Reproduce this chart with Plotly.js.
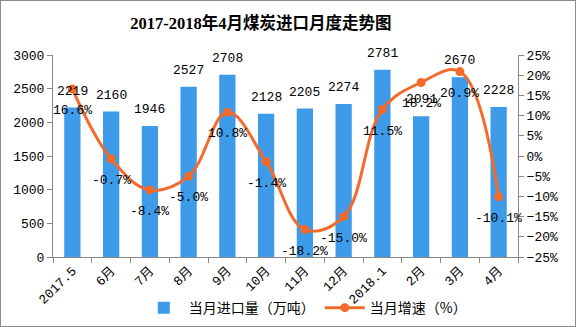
<!DOCTYPE html>
<html><head><meta charset="utf-8">
<script src="https://cdn.plot.ly/plotly-3.0.1.min.js"></script>
<style>
body{margin:0;padding:0;background:#fff;}
#wrap{position:relative;width:576px;height:327px;}
#chart{width:576px;height:327px;}
#frame{position:absolute;left:0;top:0;width:576px;height:327px;box-sizing:border-box;border:1px solid #8c8c8c;pointer-events:none;}
</style></head>
<body>
<div id="wrap"><div id="chart"></div><div id="frame"></div></div>
<script>
const categories = ["2017.5","6月","7月","8月","9月","10月","11月","12月","2018.1","2月","3月","4月"];
const imports = [2219,2160,1946,2527,2708,2128,2205,2274,2781,2091,2670,2228];
const growth = [16.6,-0.7,-8.4,-5.0,10.8,-1.4,-18.2,-15.0,11.5,18.2,20.9,-10.1];

const numFont = {family:"Liberation Mono, DejaVu Sans Mono, monospace", size:13, color:"#000"};
const cjk = "Liberation Mono, Noto Sans CJK SC, monospace";

const bars = {
  type:"bar", x:categories, y:imports, name:"当月进口量（万吨）",
  marker:{color:"#3d9be9"}, hoverinfo:"x+y"
};
const line = {
  type:"scatter", mode:"lines+markers", x:categories, y:growth, yaxis:"y2",
  name:"当月增速（%）",
  line:{color:"#f26b2b", width:3, shape:"spline", smoothing:1.1},
  marker:{color:"#f26b2b", size:9}, cliponaxis:false
};

const annotations = [];
categories.forEach((c,i)=>{
  annotations.push({x:i, y:imports[i], xref:"x", yref:"y", text:String(imports[i]),
    showarrow:false, yanchor:"bottom", yshift:7, font:numFont});
  annotations.push({x:i, y:growth[i], xref:"x", yref:"y2", text:growth[i].toFixed(1)+"%",
    showarrow:false, yanchor:"top", yshift:-12, font:numFont});
});

const layout = {
  width:576, height:327,
  margin:{l:53, r:58, t:55, b:70},
  paper_bgcolor:"#fff", plot_bgcolor:"#fff",
  title:{text:"<b>2017-2018年4月煤炭进口月度走势图</b>", xref:"container", x:0.453, xanchor:"center",
         yref:"container", y:0.93, yanchor:"middle",
         font:{family:"Liberation Serif, Noto Sans CJK SC, serif", size:16.5, color:"#000"}},
  bargap:0.58,
  showlegend:true,
  legend:{orientation:"h", xref:"container", yref:"container", x:0.53, xanchor:"center",
          y:0.058, yanchor:"middle",
          bgcolor:"rgba(0,0,0,0)",
          font:{family:"Noto Sans CJK SC, sans-serif", size:14, color:"#000"}, itemwidth:40,
          traceorder:"normal"},
  annotations:annotations,
  xaxis:{type:"category", categoryarray:categories, categoryorder:"array",
         range:[-0.5, categories.length-0.5], automargin:false,
         tickson:"boundaries", ticks:"outside", ticklen:5, tickcolor:"#888",
         showline:true, linecolor:"#888", linewidth:1, showgrid:false, tickangle:-45,
         tickfont:{family:cjk, size:13, color:"#000"}, fixedrange:true},
  yaxis:{range:[0,3000], dtick:500, ticks:"outside", ticklen:5, tickcolor:"#888",
         showline:true, linecolor:"#888", showgrid:false, zeroline:false, automargin:false,
         tickfont:numFont},
  yaxis2:{range:[-25,25], dtick:5, overlaying:"y", side:"right", ticks:"outside", ticklen:5,
          tickcolor:"#888", showline:true, linecolor:"#888", showgrid:false, zeroline:false,
          automargin:false, ticksuffix:"%", tickfont:numFont}
};
Plotly.newPlot("chart", [bars, line], layout, {displayModeBar:false, staticPlot:true});
</script>
</body></html>
